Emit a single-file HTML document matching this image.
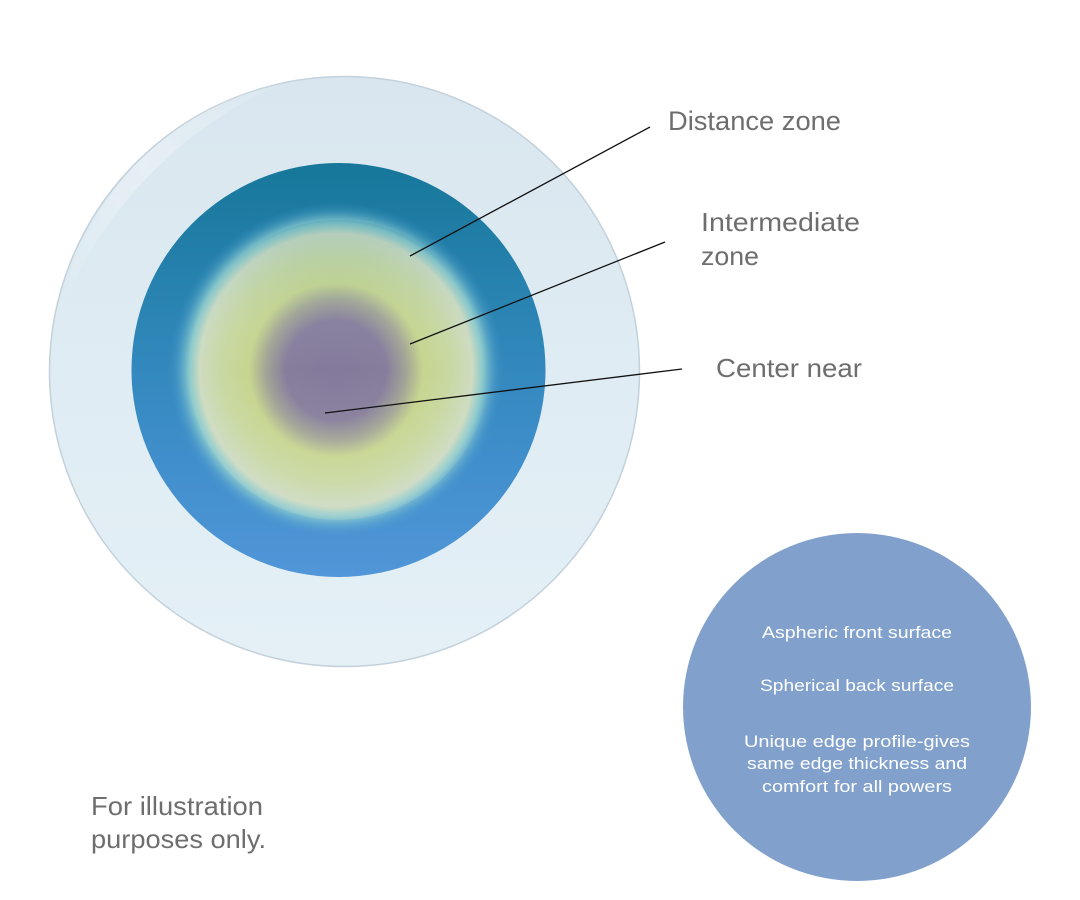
<!DOCTYPE html>
<html>
<head>
<meta charset="utf-8">
<style>
  html,body{margin:0;padding:0;background:#fff;}
  svg{display:block;}
  .lbl{font-family:"Liberation Sans",sans-serif;fill:#6e6e6e;}
  .w{font-family:"Liberation Sans",sans-serif;fill:#ffffff;font-size:17px;}
</style>
</head>
<body>
<svg width="1080" height="900" viewBox="0 0 1080 900" xmlns="http://www.w3.org/2000/svg">
  <defs>
    <linearGradient id="lensBg" x1="0" y1="0" x2="0" y2="1">
      <stop offset="0" stop-color="#d9e6ef"/>
      <stop offset="0.5" stop-color="#dfecf3"/>
      <stop offset="1" stop-color="#e4f0f6"/>
    </linearGradient>
    <linearGradient id="blueBg" x1="0" y1="0" x2="0" y2="1">
      <stop offset="0" stop-color="#17779a"/>
      <stop offset="0.35" stop-color="#2a84b3"/>
      <stop offset="0.7" stop-color="#3f8ecb"/>
      <stop offset="1" stop-color="#5196d8"/>
    </linearGradient>
    <radialGradient id="zones" gradientUnits="userSpaceOnUse" cx="336" cy="370" r="207">
      <stop offset="0" stop-color="#837a9c" stop-opacity="1"/>
      <stop offset="0.24" stop-color="#867d9c" stop-opacity="1"/>
      <stop offset="0.34" stop-color="#a3a595" stop-opacity="1"/>
      <stop offset="0.42" stop-color="#c6d58e" stop-opacity="1"/>
      <stop offset="0.55" stop-color="#c8d8a2" stop-opacity="1"/>
      <stop offset="0.66" stop-color="#cddbc0" stop-opacity="1"/>
      <stop offset="0.71" stop-color="#93d0cd" stop-opacity="0.9"/>
      <stop offset="0.77" stop-color="#6ab4d0" stop-opacity="0.25"/>
      <stop offset="0.81" stop-color="#4a9ad0" stop-opacity="0"/>
      <stop offset="1" stop-color="#4a9ad0" stop-opacity="0"/>
    </radialGradient>
    <linearGradient id="shade" x1="0" y1="0" x2="0" y2="1">
      <stop offset="0" stop-color="#1c7a98" stop-opacity="0.18"/>
      <stop offset="0.5" stop-color="#ffffff" stop-opacity="0"/>
      <stop offset="1" stop-color="#e6e6e6" stop-opacity="0.15"/>
    </linearGradient>
    <linearGradient id="hl" x1="0" y1="1" x2="1" y2="0">
      <stop offset="0" stop-color="#ffffff" stop-opacity="0"/>
      <stop offset="0.5" stop-color="#ffffff" stop-opacity="0.3"/>
      <stop offset="1" stop-color="#ffffff" stop-opacity="0.05"/>
    </linearGradient>
  </defs>

  <!-- outer lens -->
  <circle cx="344.5" cy="371.5" r="295" fill="url(#lensBg)" stroke="#c3d1dc" stroke-width="1.5"/>
  <path d="M58,318 A295,295 0 0 1 290,80 A420,420 0 0 0 58,318 Z" fill="url(#hl)"/>

  <!-- zone disc -->
  <circle cx="338.5" cy="370" r="207" fill="url(#blueBg)"/>
  <circle cx="338.5" cy="370" r="207" fill="url(#zones)"/>
  <circle cx="338.5" cy="370" r="150" fill="url(#shade)"/>

  <!-- leader lines -->
  <g stroke="#111" stroke-width="1.3" fill="none">
    <line x1="410" y1="256" x2="650" y2="127"/>
    <line x1="410" y1="344" x2="665" y2="242"/>
    <line x1="325" y1="413" x2="682" y2="369"/>
  </g>

  <!-- labels -->
  <text class="lbl" x="668" y="130" font-size="27" textLength="173" lengthAdjust="spacingAndGlyphs">Distance zone</text>
  <text class="lbl" x="701" y="231" font-size="26" textLength="159" lengthAdjust="spacingAndGlyphs">Intermediate</text>
  <text class="lbl" x="701" y="265" font-size="26" textLength="58" lengthAdjust="spacingAndGlyphs">zone</text>
  <text class="lbl" x="716" y="377" font-size="26" textLength="146" lengthAdjust="spacingAndGlyphs">Center near</text>

  <text class="lbl" x="91" y="815" font-size="26" textLength="172" lengthAdjust="spacingAndGlyphs">For illustration</text>
  <text class="lbl" x="91" y="848" font-size="26" textLength="175" lengthAdjust="spacingAndGlyphs">purposes only.</text>

  <!-- info circle -->
  <circle cx="857" cy="707" r="174" fill="#81a1cc"/>
  <text class="w" x="762" y="638" textLength="190" lengthAdjust="spacingAndGlyphs">Aspheric front surface</text>
  <text class="w" x="760" y="691" textLength="194" lengthAdjust="spacingAndGlyphs">Spherical back surface</text>
  <text class="w" x="744" y="747" textLength="226" lengthAdjust="spacingAndGlyphs">Unique edge profile-gives</text>
  <text class="w" x="747" y="769" textLength="220" lengthAdjust="spacingAndGlyphs">same edge thickness and</text>
  <text class="w" x="762" y="792" textLength="190" lengthAdjust="spacingAndGlyphs">comfort for all powers</text>
</svg>
</body>
</html>
